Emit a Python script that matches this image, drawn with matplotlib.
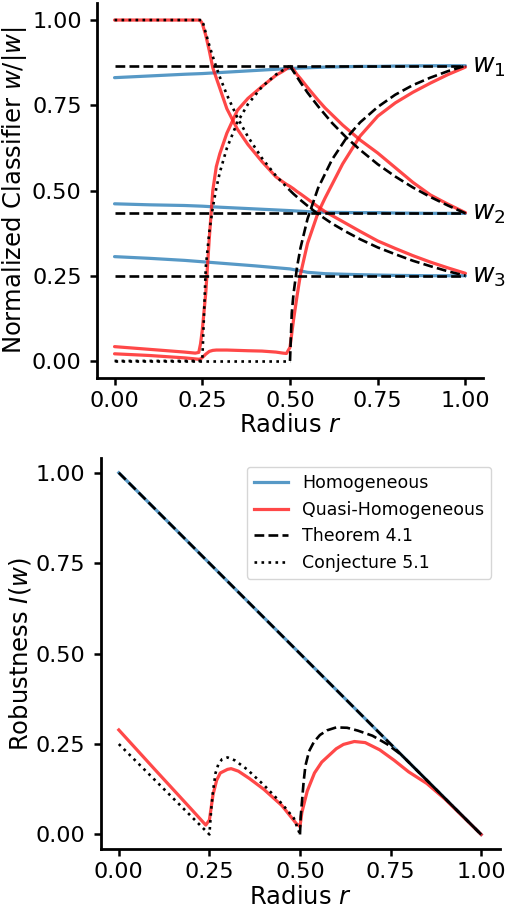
import matplotlib
matplotlib.use("Agg")
import matplotlib.pyplot as plt
from matplotlib.lines import Line2D

# ---------------- data ----------------
# Top panel: homogeneous classifier components
r_hom = [0, 0.1, 0.2, 0.25, 0.3, 0.4, 0.5, 0.55, 0.6, 0.7, 0.75, 0.8, 0.9, 1.0]
hom_w1 = [0.831, 0.836, 0.841, 0.843, 0.846, 0.852, 0.858, 0.860, 0.862, 0.864, 0.864, 0.865, 0.866, 0.866]
hom_w2 = [0.461, 0.458, 0.456, 0.454, 0.451, 0.446, 0.441, 0.438, 0.436, 0.435, 0.435, 0.434, 0.433, 0.433]
hom_w3 = [0.306, 0.301, 0.295, 0.291, 0.287, 0.279, 0.270, 0.260, 0.256, 0.253, 0.252, 0.251, 0.250, 0.250]

# Theorem 4.1 (homogeneous): constant components
r_thm_hom = [0.0, 1.0]
thm_hom_w = [0.866, 0.433, 0.25]

# Quasi-homogeneous (measured)
r_q = [0, 0.1, 0.2, 0.23, 0.24, 0.245, 0.25, 0.26, 0.27, 0.28, 0.29, 0.30, 0.32, 0.35, 0.38,
       0.42, 0.46, 0.48, 0.49, 0.5, 0.51, 0.52, 0.53, 0.55, 0.58, 0.6, 0.65, 0.7, 0.75, 0.8,
       0.85, 0.9, 0.95, 1.0]
q_a = [1.0, 1.0, 1.0, 1.0, 1.0, 0.998, 0.99, 0.955, 0.91, 0.86, 0.83, 0.8, 0.74, 0.68, 0.635,
       0.585, 0.54, 0.525, 0.518, 0.512, 0.505, 0.497, 0.49, 0.475, 0.452, 0.438, 0.409, 0.38,
       0.352, 0.33, 0.309, 0.29, 0.273, 0.257]
q_b = [0.042, 0.034, 0.026, 0.023, 0.025, 0.05, 0.09, 0.2, 0.36, 0.5, 0.57, 0.608, 0.668, 0.735,
       0.77, 0.805, 0.838, 0.85, 0.857, 0.864, 0.855, 0.84, 0.828, 0.802, 0.765, 0.742, 0.692,
       0.648, 0.61, 0.567, 0.524, 0.487, 0.46, 0.435]
q_c = [0.021, 0.016, 0.009, 0.006, 0.005, 0.006, 0.01, 0.02, 0.028, 0.031, 0.032, 0.032, 0.032,
       0.031, 0.03, 0.029, 0.026, 0.023, 0.022, 0.04, 0.12, 0.19, 0.255, 0.345, 0.435, 0.478,
       0.578, 0.66, 0.718, 0.757, 0.788, 0.815, 0.84, 0.862]

# Conjecture 5.1 (dotted), r in [0, 0.5]
r_conj = [0, 0.25, 0.26, 0.27, 0.28, 0.29, 0.30, 0.32, 0.35, 0.38, 0.42, 0.46, 0.5]
conj_a = [1.0, 1.0, 0.962, 0.926, 0.893, 0.862, 0.833, 0.781, 0.714, 0.658, 0.595, 0.543, 0.5]
conj_b = [0.0, 0.0, 0.275, 0.378, 0.45, 0.507, 0.553, 0.624, 0.7, 0.753, 0.804, 0.84, 0.866]
conj_c = [0.0, 0.0, 0.0, 0.0, 0.0, 0.0, 0.0, 0.0, 0.0, 0.0, 0.0, 0.0, 0.0]

# Theorem 4.1 (quasi-homogeneous, dashed), r in [0.5, 1]
r_thm = [0.5, 0.505, 0.51, 0.52, 0.53, 0.55, 0.58, 0.62, 0.66, 0.7, 0.75, 0.8, 0.85, 0.9, 0.95, 1.0]
thm_a = [0.5, 0.495, 0.49, 0.481, 0.472, 0.455, 0.431, 0.403, 0.379, 0.357, 0.333, 0.313, 0.294,
         0.278, 0.263, 0.25]
thm_b = [0.866, 0.857, 0.849, 0.833, 0.817, 0.787, 0.747, 0.698, 0.656, 0.619, 0.577, 0.541, 0.509,
         0.481, 0.456, 0.433]
thm_c = [0.0, 0.14, 0.197, 0.275, 0.332, 0.417, 0.507, 0.591, 0.653, 0.7, 0.745, 0.781, 0.809,
         0.831, 0.85, 0.866]

component_labels = ["$w_1$", "$w_2$", "$w_3$"]

# Bottom panel: robustness
r_rob_hom = [0.0, 1.0]
rob_hom = [1.0, 0.0]

r_rob_q = [0, 0.1, 0.2, 0.24, 0.25, 0.26, 0.27, 0.28, 0.3, 0.31, 0.33, 0.36, 0.4, 0.45, 0.49, 0.5,
           0.505, 0.52, 0.54, 0.56, 0.6, 0.62, 0.65, 0.68, 0.72, 0.76, 0.8, 0.85, 0.9, 0.95, 1.0]
rob_q = [0.289, 0.179, 0.07, 0.026, 0.04, 0.11, 0.15, 0.17, 0.18, 0.182, 0.175, 0.155, 0.125, 0.08,
         0.03, 0.022, 0.06, 0.12, 0.17, 0.2, 0.237, 0.249, 0.257, 0.254, 0.234, 0.205, 0.173,
         0.141, 0.098, 0.049, 0.0]

r_rob_thm = [0.5, 0.502, 0.506, 0.51, 0.515, 0.525, 0.538, 0.555, 0.575, 0.6, 0.63, 0.66, 0.7,
             0.74, 0.78, 0.85, 1.0]
rob_thm = [0.0, 0.05, 0.097, 0.145, 0.19, 0.23, 0.255, 0.275, 0.288, 0.296, 0.295, 0.287, 0.273,
           0.25, 0.22, 0.15, 0.0]

r_rob_conj = [0, 0.1, 0.2, 0.25, 0.255, 0.26, 0.267, 0.275, 0.285, 0.3, 0.32, 0.354, 0.4, 0.45,
              0.483, 0.5]
rob_conj = [0.25, 0.15, 0.05, 0.0, 0.07, 0.12, 0.17, 0.195, 0.208, 0.213, 0.205, 0.18, 0.137,
            0.085, 0.045, 0.0]

legend_labels = ["Homogeneous", "Quasi-Homogeneous", "Theorem 4.1", "Conjecture 5.1"]
ticks = [0.0, 0.25, 0.5, 0.75, 1.0]

# ---------------- styling ----------------
BLUE = "#1f77b4"
RED = "#ff1a1a"
LW = 2.3
TICK_FS = 16
LABEL_FS = 17.5
LEG_FS = 12.5

plt.rcParams["font.family"] = "DejaVu Sans"
plt.rcParams["mathtext.fontset"] = "dejavusans"

fig = plt.figure(figsize=(5.1, 9.13), dpi=100)
ax1 = fig.add_axes([97 / 510, 1 - 378 / 913, 386 / 510, 375 / 913])
ax2 = fig.add_axes([100.7 / 510, 1 - 849.3 / 913, 399.3 / 510, 391 / 913])


def style(ax):
    for s in ["top", "right"]:
        ax.spines[s].set_visible(False)
    for s in ["left", "bottom"]:
        ax.spines[s].set_linewidth(2.0)
    ax.tick_params(axis="both", which="major", labelsize=TICK_FS, width=1.8, length=5)
    ax.tick_params(axis="x", pad=4)
    ax.tick_params(axis="y", pad=6)
    ax.set_xticks(ticks)
    ax.set_yticks(ticks)
    ax.set_xticklabels([f"{t:.2f}" for t in ticks])
    ax.set_yticklabels([f"{t:.2f}" for t in ticks])


# ---- top panel ----
for w in (hom_w1, hom_w2, hom_w3):
    ax1.plot(r_hom, w, color=BLUE, lw=LW, alpha=0.75, solid_capstyle="round")
for w in (q_a, q_b, q_c):
    ax1.plot(r_q, w, color=RED, lw=LW, alpha=0.8, solid_capstyle="round")
for v in thm_hom_w:
    ax1.plot(r_thm_hom, [v, v], color="black", lw=1.9, ls="--")
for w in (thm_a, thm_b, thm_c):
    ax1.plot(r_thm, w, color="black", lw=1.9, ls="--")
for w in (conj_a, conj_b, conj_c):
    ax1.plot(r_conj, w, color="black", lw=1.9, ls=":")
for lab, v in zip(component_labels, thm_hom_w):
    ax1.text(1.02, v, lab, fontsize=19, va="center", ha="left", clip_on=False)

ax1.set_xlim(-0.05, 1.05)
ax1.set_ylim(-0.05, 1.05)
style(ax1)
ax1.set_xlabel("Radius $r$", fontsize=LABEL_FS, labelpad=2)
ax1.set_ylabel("Normalized Classifier $w/|w|$", fontsize=LABEL_FS, labelpad=2)

# ---- bottom panel ----
ax2.plot(r_rob_hom, rob_hom, color=BLUE, lw=LW, alpha=0.75)
ax2.plot(r_rob_q, rob_q, color=RED, lw=LW, alpha=0.8)
ax2.plot(r_rob_hom, rob_hom, color="black", lw=1.9, ls="--")
ax2.plot(r_rob_thm, rob_thm, color="black", lw=1.9, ls="--")
ax2.plot(r_rob_conj, rob_conj, color="black", lw=1.9, ls=":")

ax2.set_xlim(-0.05, 1.052)
ax2.set_ylim(-0.041, 1.04)
style(ax2)
ax2.set_xlabel("Radius $r$", fontsize=LABEL_FS, labelpad=2)
ax2.set_ylabel("Robustness $I(w)$", fontsize=LABEL_FS, labelpad=2)

handles = [
    Line2D([], [], color=BLUE, lw=LW, alpha=0.75),
    Line2D([], [], color=RED, lw=LW, alpha=0.8),
    Line2D([], [], color="black", lw=1.9, ls="--"),
    Line2D([], [], color="black", lw=1.9, ls=":"),
]
ax2.legend(handles, legend_labels, loc="upper right", fontsize=LEG_FS, frameon=True,
           fancybox=True, framealpha=0.8, edgecolor="#cccccc", borderaxespad=0.5)

fig.savefig("out.png", dpi=100)
